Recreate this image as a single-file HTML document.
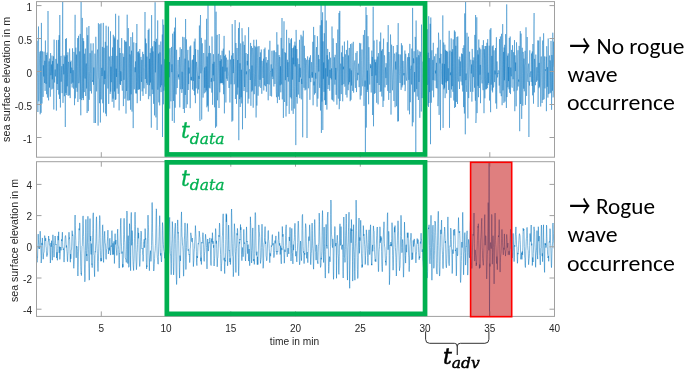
<!DOCTYPE html>
<html><head><meta charset="utf-8"><title>Rogue wave figure</title>
<style>
html,body{margin:0;padding:0;background:#fff;}
body{width:685px;height:370px;overflow:hidden;}
svg{display:block;}
.tk{font-family:"Liberation Sans",Arial,sans-serif;font-size:10px;fill:#262626;}
.lab{font-family:"Liberation Sans",Arial,sans-serif;font-size:10.2px;fill:#262626;}
.side{font-family:"Carlito","Liberation Sans",Arial,sans-serif;font-size:23px;font-size-adjust:0.466;fill:#000;}
.math{font-family:"DejaVu Serif","Liberation Serif",serif;font-style:italic;}
</style></head>
<body>
<svg width="685" height="370" viewBox="0 0 685 370">
<rect x="0" y="0" width="685" height="370" fill="#fff"/>
<defs>
<clipPath id="ct"><rect x="36.5" y="1.6" width="518" height="155.6"/></clipPath>
<clipPath id="cb"><rect x="36.5" y="161.7" width="518" height="154.7"/></clipPath>
</defs>
<!-- data -->
<polyline clip-path="url(#ct)" fill="none" stroke="#0072BD" stroke-width="0.42" stroke-linejoin="round" points="36.5,114.4 36.8,59.8 37.1,40.8 37.4,74.9 37.7,74.9 37.9,112.0 38.2,46.8 38.5,26.5 38.8,101.3 39.1,91.7 39.4,66.1 39.7,53.7 40.0,51.7 40.2,114.3 40.5,55.6 40.8,50.9 41.1,112.8 41.4,22.9 41.7,76.6 42.0,103.5 42.3,63.7 42.5,51.4 42.8,64.7 43.1,96.9 43.4,65.3 43.7,76.5 44.0,51.7 44.3,78.3 44.6,83.0 44.8,60.8 45.1,90.9 45.4,40.5 45.7,81.7 46.0,83.9 46.3,55.0 46.6,94.2 46.9,53.3 47.1,52.6 47.4,97.6 47.7,87.3 48.0,11.0 48.3,64.8 48.6,100.4 48.9,61.4 49.2,61.5 49.5,87.6 49.7,58.6 50.0,64.1 50.3,96.7 50.6,53.1 50.9,75.2 51.2,72.4 51.5,64.5 51.8,89.5 52.0,55.6 52.3,79.3 52.6,61.1 52.9,88.7 53.2,60.6 53.5,56.3 53.8,109.5 54.1,39.6 54.3,71.0 54.6,82.5 54.9,73.1 55.2,69.5 55.5,76.4 55.8,58.9 56.1,64.8 56.4,110.6 56.6,40.1 56.9,65.3 57.2,84.0 57.5,63.7 57.8,90.0 58.1,67.1 58.4,39.9 58.7,94.5 58.9,88.5 59.2,35.2 59.5,98.9 59.8,15.0 60.1,52.8 60.4,107.5 60.7,58.9 61.0,55.9 61.2,81.7 61.5,72.3 61.8,66.2 62.1,93.1 62.4,52.4 62.7,2.0 63.0,102.9 63.3,63.9 63.6,66.8 63.8,74.4 64.1,55.4 64.4,96.2 64.7,65.3 65.0,56.7 65.3,127.0 65.6,39.0 65.9,92.9 66.1,83.0 66.4,38.1 66.7,95.0 67.0,55.2 67.3,86.3 67.6,70.1 67.9,52.3 68.2,95.8 68.4,61.9 68.7,63.2 69.0,73.3 69.3,95.3 69.6,48.6 69.9,58.9 70.2,98.1 70.5,62.1 70.7,73.2 71.0,60.7 71.3,83.7 71.6,67.6 71.9,68.7 72.2,87.5 72.5,48.3 72.8,82.7 73.0,70.5 73.3,70.2 73.6,88.6 73.9,51.9 74.2,53.5 74.5,105.2 74.8,83.3 75.1,14.8 75.3,98.4 75.6,87.7 75.9,47.7 76.2,87.8 76.5,54.6 76.8,72.8 77.1,91.8 77.4,66.4 77.7,38.1 77.9,102.0 78.2,82.7 78.5,35.8 78.8,83.2 79.1,81.5 79.4,73.8 79.7,51.4 80.0,99.2 80.2,33.9 80.5,86.1 80.8,115.3 81.1,1.6 81.4,83.9 81.7,100.1 82.0,83.1 82.3,17.9 82.5,88.6 82.8,98.1 83.1,38.2 83.4,100.1 83.7,41.1 84.0,76.6 84.3,92.1 84.6,53.7 84.8,75.7 85.1,78.5 85.4,48.6 85.7,96.0 86.0,66.1 86.3,63.5 86.6,88.5 86.9,27.4 87.1,113.0 87.4,78.8 87.7,35.2 88.0,62.7 88.3,111.1 88.6,71.4 88.9,26.0 89.2,99.8 89.5,73.7 89.7,71.5 90.0,53.2 90.3,91.1 90.6,77.1 90.9,43.4 91.2,80.1 91.5,93.5 91.8,62.1 92.0,50.6 92.3,81.6 92.6,80.6 92.9,81.7 93.2,43.3 93.5,84.8 93.8,67.5 94.1,123.0 94.3,82.2 94.6,66.1 94.9,53.6 95.2,65.4 95.5,123.0 95.8,36.8 96.1,54.7 96.4,75.1 96.6,91.4 96.9,81.5 97.2,53.8 97.5,49.5 97.8,76.7 98.1,125.6 98.4,23.2 98.7,63.2 98.9,77.5 99.2,79.7 99.5,103.2 99.8,24.2 100.1,51.8 100.4,122.5 100.7,70.6 101.0,23.3 101.2,99.4 101.5,74.2 101.8,67.8 102.1,76.0 102.4,46.9 102.7,103.3 103.0,73.5 103.3,22.9 103.6,112.5 103.8,72.2 104.1,47.8 104.4,84.3 104.7,70.6 105.0,79.0 105.3,41.8 105.6,113.6 105.9,57.6 106.1,25.7 106.4,116.2 106.7,78.7 107.0,45.7 107.3,65.8 107.6,79.8 107.9,88.5 108.2,73.2 108.4,26.6 108.7,103.9 109.0,80.7 109.3,56.5 109.6,61.2 109.9,80.9 110.2,93.9 110.5,31.3 110.7,91.6 111.0,66.7 111.3,82.2 111.6,63.6 111.9,55.9 112.2,101.8 112.5,47.5 112.8,72.0 113.0,98.7 113.3,34.8 113.6,72.5 113.9,107.7 114.2,36.5 114.5,91.5 114.8,38.4 115.1,92.3 115.4,99.9 115.6,13.8 115.9,99.4 116.2,68.7 116.5,76.9 116.8,55.9 117.1,88.5 117.4,76.0 117.7,39.7 117.9,84.9 118.2,93.8 118.5,72.5 118.8,15.7 119.1,110.4 119.4,83.0 119.7,47.9 120.0,84.3 120.2,53.0 120.5,85.0 120.8,71.3 121.1,74.8 121.4,81.1 121.7,38.1 122.0,83.8 122.3,90.7 122.5,71.7 122.8,53.4 123.1,55.1 123.4,106.1 123.7,56.9 124.0,79.9 124.3,67.9 124.6,40.2 124.8,98.7 125.1,95.7 125.4,41.7 125.7,45.3 126.0,113.6 126.3,41.6 126.6,91.0 126.9,86.2 127.2,14.7 127.4,91.5 127.7,100.5 128.0,71.9 128.3,28.1 128.6,80.2 128.9,100.6 129.2,63.3 129.5,46.3 129.7,100.1 130.0,54.4 130.3,57.1 130.6,109.7 130.9,37.0 131.2,94.3 131.5,50.7 131.8,56.3 132.0,111.6 132.3,74.1 132.6,32.4 132.9,55.5 133.2,128.1 133.5,58.1 133.8,42.4 134.1,74.0 134.3,89.3 134.6,70.9 134.9,67.3 135.2,72.2 135.5,61.4 135.8,93.3 136.1,43.0 136.4,93.5 136.6,81.6 136.9,24.0 137.2,103.2 137.5,77.2 137.8,52.1 138.1,89.9 138.4,51.3 138.7,74.7 138.9,89.5 139.2,53.3 139.5,89.2 139.8,49.0 140.1,68.7 140.4,100.8 140.7,59.6 141.0,56.9 141.3,76.5 141.5,81.9 141.8,59.8 142.1,91.4 142.4,57.0 142.7,51.8 143.0,95.9 143.3,80.3 143.6,54.1 143.8,62.7 144.1,88.4 144.4,68.1 144.7,67.3 145.0,12.0 145.3,79.0 145.6,38.6 145.9,93.9 146.1,87.8 146.4,43.3 146.7,83.1 147.0,56.6 147.3,84.9 147.6,82.4 147.9,70.7 148.2,30.0 148.4,98.6 148.7,99.2 149.0,28.6 149.3,85.2 149.6,58.8 149.9,96.2 150.2,52.9 150.5,82.5 150.7,64.7 151.0,48.3 151.3,127.7 151.6,15.1 151.9,84.0 152.2,89.5 152.5,46.4 152.8,94.1 153.1,51.4 153.3,68.6 153.6,103.8 153.9,49.1 154.2,41.0 154.5,115.4 154.8,58.2 155.1,2.2 155.4,72.4 155.6,41.8 155.9,117.4 156.2,68.7 156.5,38.8 156.8,66.5 157.1,130.0 157.4,90.3 157.7,20.4 157.9,89.7 158.2,80.9 158.5,53.6 158.8,102.4 159.1,44.8 159.4,57.1 159.7,105.4 160.0,52.4 160.2,71.2 160.5,87.3 160.8,41.5 161.1,92.1 161.4,64.5 161.7,85.3 162.0,63.1 162.3,34.5 162.5,137.0 162.8,19.4 163.1,75.3 163.4,104.3 163.7,24.8 164.0,90.6 164.3,83.1 164.6,63.5 164.8,59.3 165.1,86.6 165.4,58.9 165.7,84.4 166.0,69.4 166.3,71.5 166.6,59.1 166.9,70.4 167.2,113.2 167.4,24.9 167.7,79.2 168.0,68.8 168.3,88.9 168.6,75.1 168.9,49.2 169.2,77.3 169.5,62.1 169.7,108.6 170.0,48.0 170.3,57.5 170.6,67.4 170.9,101.3 171.2,72.4 171.5,46.9 171.8,72.2 172.0,64.3 172.3,120.9 172.6,33.7 172.9,51.0 173.2,83.5 173.5,100.9 173.8,58.7 174.1,31.6 174.3,122.9 174.6,27.6 174.9,83.4 175.2,107.7 175.5,17.6 175.8,75.9 176.1,94.4 176.4,78.7 176.6,49.8 176.9,64.3 177.2,88.0 177.5,74.3 177.8,70.5 178.1,60.0 178.4,77.3 178.7,74.4 178.9,79.5 179.2,61.5 179.5,57.2 179.8,107.4 180.1,47.3 180.4,58.3 180.7,89.3 181.0,82.1 181.3,61.0 181.5,49.1 181.8,92.9 182.1,71.8 182.4,89.1 182.7,36.8 183.0,61.0 183.3,109.0 183.6,71.4 183.8,58.5 184.1,37.3 184.4,113.0 184.7,67.2 185.0,58.6 185.3,94.9 185.6,19.0 185.9,95.3 186.1,107.9 186.4,39.3 186.7,51.2 187.0,78.2 187.3,104.3 187.6,56.2 187.9,49.9 188.2,90.0 188.4,60.5 188.7,84.1 189.0,67.5 189.3,73.5 189.6,71.5 189.9,46.6 190.2,108.2 190.5,68.0 190.7,45.5 191.0,80.1 191.3,76.9 191.6,80.5 191.9,63.5 192.2,60.2 192.5,89.5 192.8,59.5 193.1,74.9 193.3,80.9 193.6,55.0 193.9,90.9 194.2,41.5 194.5,95.2 194.8,77.7 195.1,38.6 195.4,103.2 195.6,49.1 195.9,73.6 196.2,88.4 196.5,61.9 196.8,66.4 197.1,70.6 197.4,73.9 197.7,93.5 197.9,49.8 198.2,58.3 198.5,89.4 198.8,75.9 199.1,78.9 199.4,25.5 199.7,118.4 200.0,121.0 200.2,29.6 200.5,15.0 200.8,73.3 201.1,55.0 201.4,37.9 201.7,119.5 202.0,74.6 202.3,43.3 202.5,69.8 202.8,71.0 203.1,97.6 203.4,67.6 203.7,53.0 204.0,62.1 204.3,93.3 204.6,67.5 204.8,87.8 205.1,39.7 205.4,70.6 205.7,92.3 206.0,66.5 206.3,90.5 206.6,18.8 206.9,107.3 207.2,56.5 207.4,78.1 207.7,105.7 208.0,1.6 208.3,111.6 208.6,84.6 208.9,53.1 209.2,87.7 209.5,45.8 209.7,73.1 210.0,88.4 210.3,82.2 210.6,53.2 210.9,58.7 211.2,81.8 211.5,78.2 211.8,92.6 212.0,36.5 212.3,58.8 212.6,104.8 212.9,63.8 213.2,75.3 213.5,54.2 213.8,81.3 214.1,61.8 214.3,81.7 214.6,107.3 214.9,1.6 215.2,71.9 215.5,127.8 215.8,67.3 216.1,11.7 216.4,81.0 216.6,126.5 216.9,41.0 217.2,34.9 217.5,100.3 217.8,87.3 218.1,56.2 218.4,53.8 218.7,77.1 219.0,108.0 219.2,34.0 219.5,66.1 219.8,92.3 220.1,60.9 220.4,83.3 220.7,55.2 221.0,82.6 221.3,59.3 221.5,83.2 221.8,79.0 222.1,50.7 222.4,83.0 222.7,66.7 223.0,84.6 223.3,48.7 223.6,94.2 223.8,68.8 224.1,35.9 224.4,113.4 224.7,55.9 225.0,71.5 225.3,70.6 225.6,54.7 225.9,102.5 226.1,62.7 226.4,57.6 226.7,78.7 227.0,67.5 227.3,80.8 227.6,76.6 227.9,59.7 228.2,70.8 228.4,73.0 228.7,76.1 229.0,88.0 229.3,50.5 229.6,53.3 229.9,102.5 230.2,70.7 230.5,59.6 230.8,67.2 231.0,84.3 231.3,65.0 231.6,55.5 231.9,121.7 232.2,24.1 232.5,50.6 232.8,120.6 233.1,53.1 233.3,73.1 233.6,59.1 233.9,70.9 234.2,84.3 234.5,82.8 234.8,61.2 235.1,20.0 235.4,99.0 235.6,90.2 235.9,43.0 236.2,57.8 236.5,103.8 236.8,63.9 237.1,48.0 237.4,94.6 237.7,60.0 237.9,87.5 238.2,61.3 238.5,28.1 238.8,140.2 239.1,56.5 239.4,22.4 239.7,99.1 240.0,63.3 240.2,107.0 240.5,43.5 240.8,43.6 241.1,97.3 241.4,69.7 241.7,103.4 242.0,28.2 242.3,40.3 242.5,129.3 242.8,71.2 243.1,41.5 243.4,67.2 243.7,81.3 244.0,91.0 244.3,44.9 244.6,87.0 244.9,71.5 245.1,35.3 245.4,118.1 245.7,61.7 246.0,53.0 246.3,74.3 246.6,71.4 246.9,92.2 247.2,60.9 247.4,65.3 247.7,54.0 248.0,103.5 248.3,77.3 248.6,27.2 248.9,98.7 249.2,71.1 249.5,69.3 249.7,70.3 250.0,73.0 250.3,80.0 250.6,42.9 250.9,105.8 251.2,63.4 251.5,46.1 251.8,91.7 252.0,65.5 252.3,90.5 252.6,47.9 252.9,55.2 253.2,107.7 253.5,72.7 253.8,39.8 254.1,73.9 254.3,94.2 254.6,73.3 254.9,45.8 255.2,86.2 255.5,74.5 255.8,47.2 256.1,117.5 256.4,39.7 256.6,45.3 256.9,105.6 257.2,79.5 257.5,57.3 257.8,46.5 258.1,95.7 258.4,80.3 258.7,68.1 259.0,46.1 259.2,86.6 259.5,84.5 259.8,57.0 260.1,79.8 260.4,52.4 260.7,87.9 261.0,82.4 261.3,49.5 261.5,68.8 261.8,93.8 262.1,60.8 262.4,65.8 262.7,74.4 263.0,78.0 263.3,72.7 263.6,58.7 263.8,90.5 264.1,49.2 264.4,85.4 264.7,80.2 265.0,47.6 265.3,79.5 265.6,86.2 265.9,62.8 266.1,57.1 266.4,91.7 266.7,62.6 267.0,68.8 267.3,84.1 267.6,60.0 267.9,60.4 268.2,100.3 268.4,61.7 268.7,49.7 269.0,84.2 269.3,84.4 269.6,71.4 269.9,40.8 270.2,95.9 270.5,71.4 270.8,71.8 271.0,64.7 271.3,64.4 271.6,96.5 271.9,50.8 272.2,76.6 272.5,68.6 272.8,79.1 273.1,77.2 273.3,50.5 273.6,80.1 273.9,86.5 274.2,65.8 274.5,50.5 274.8,84.0 275.1,83.6 275.4,67.8 275.6,66.3 275.9,52.2 276.2,91.6 276.5,97.2 276.8,32.2 277.1,57.4 277.4,103.1 277.7,80.4 277.9,44.6 278.2,66.1 278.5,96.6 278.8,61.3 279.1,55.0 279.4,99.9 279.7,57.0 280.0,59.2 280.2,85.3 280.5,66.3 280.8,92.3 281.1,37.9 281.4,81.2 281.7,84.5 282.0,18.0 282.3,99.4 282.6,59.2 282.8,48.6 283.1,73.7 283.4,117.9 283.7,51.8 284.0,21.3 284.3,97.9 284.6,102.0 284.9,52.1 285.1,56.0 285.4,80.2 285.7,53.0 286.0,116.5 286.3,53.5 286.6,29.8 286.9,105.9 287.2,75.2 287.4,59.8 287.7,77.1 288.0,62.2 288.3,81.6 288.6,77.2 288.9,37.9 289.2,113.9 289.5,60.6 289.7,43.2 290.0,78.8 290.3,97.2 290.6,69.1 290.9,39.3 291.2,98.5 291.5,38.2 291.8,110.6 292.0,64.4 292.3,48.2 292.6,79.6 292.9,57.7 293.2,113.9 293.5,47.5 293.8,64.3 294.1,45.5 294.3,108.6 294.6,86.3 294.9,41.7 295.2,66.4 295.5,45.7 295.8,145.1 296.1,29.9 296.4,46.5 296.7,97.0 296.9,49.1 297.2,103.6 297.5,61.4 297.8,58.4 298.1,61.0 298.4,94.5 298.7,71.2 299.0,64.0 299.2,82.0 299.5,39.8 299.8,98.2 300.1,67.8 300.4,77.4 300.7,73.1 301.0,34.8 301.3,99.4 301.5,78.8 301.8,84.0 302.1,36.4 302.4,43.6 302.7,137.3 303.0,62.6 303.3,30.7 303.6,76.0 303.8,87.3 304.1,87.8 304.4,45.8 304.7,68.5 305.0,90.4 305.3,58.1 305.6,67.9 305.9,89.6 306.1,65.6 306.4,59.7 306.7,73.2 307.0,138.0 307.3,84.8 307.6,56.4 307.9,63.4 308.2,75.1 308.4,88.3 308.7,67.0 309.0,59.9 309.3,78.2 309.6,57.6 309.9,99.8 310.2,60.3 310.5,55.3 310.8,82.1 311.0,74.9 311.3,75.0 311.6,62.1 311.9,77.7 312.2,72.2 312.5,77.5 312.8,41.8 313.1,105.3 313.3,79.4 313.6,26.9 313.9,85.3 314.2,81.6 314.5,94.6 314.8,35.1 315.1,62.9 315.4,93.2 315.6,72.9 315.9,78.7 316.2,59.9 316.5,47.1 316.8,90.6 317.1,106.7 317.4,36.2 317.7,44.7 317.9,98.6 318.2,86.9 318.5,54.9 318.8,71.5 319.1,59.2 319.4,82.3 319.7,87.9 320.0,68.6 320.2,25.3 320.5,110.5 320.8,92.7 321.1,1.6 321.4,132.9 321.7,20.2 322.0,101.6 322.3,81.1 322.6,12.3 322.8,130.0 323.1,41.4 323.4,78.8 323.7,62.4 324.0,91.8 324.3,33.2 324.6,100.2 324.9,94.9 325.1,3.2 325.4,105.0 325.7,68.2 326.0,104.7 326.3,20.5 326.6,67.0 326.9,109.6 327.2,55.2 327.4,76.5 327.7,48.9 328.0,89.0 328.3,75.4 328.6,59.5 328.9,84.9 329.2,68.7 329.5,52.1 329.7,90.7 330.0,69.9 330.3,77.9 330.6,57.7 330.9,70.6 331.2,79.4 331.5,68.4 331.8,99.5 332.0,26.5 332.3,70.3 332.6,100.3 332.9,82.4 333.2,38.4 333.5,61.6 333.8,101.6 334.1,69.6 334.4,57.3 334.6,73.0 334.9,84.6 335.2,54.8 335.5,79.6 335.8,67.9 336.1,94.8 336.4,43.0 336.7,56.0 336.9,104.7 337.2,73.0 337.5,69.1 337.8,29.5 338.1,96.9 338.4,98.6 338.7,64.6 339.0,13.0 339.2,109.2 339.5,102.6 339.8,10.9 340.1,101.0 340.4,70.9 340.7,63.6 341.0,66.9 341.3,94.1 341.5,52.4 341.8,71.5 342.1,85.1 342.4,45.6 342.7,101.3 343.0,56.8 343.3,69.3 343.6,66.7 343.8,84.2 344.1,79.9 344.4,41.6 344.7,86.5 345.0,86.5 345.3,54.3 345.6,57.5 345.9,94.8 346.1,79.9 346.4,49.9 346.7,57.1 347.0,97.5 347.3,83.9 347.6,40.5 347.9,72.3 348.2,90.2 348.5,55.4 348.7,84.5 349.0,75.6 349.3,47.9 349.6,82.2 349.9,68.5 350.2,101.2 350.5,44.1 350.8,48.8 351.0,99.8 351.3,70.4 351.6,85.5 351.9,43.4 352.2,62.5 352.5,90.6 352.8,91.0 353.1,55.7 353.3,41.8 353.6,92.7 353.9,81.2 354.2,72.9 354.5,62.6 354.8,60.5 355.1,77.4 355.4,87.9 355.6,71.7 355.9,52.9 356.2,67.1 356.5,92.1 356.8,74.7 357.1,51.1 357.4,80.3 357.7,73.3 357.9,72.8 358.2,74.9 358.5,63.7 358.8,70.9 359.1,87.1 359.4,68.9 359.7,42.9 360.0,88.4 360.2,99.5 360.5,46.1 360.8,43.4 361.1,95.6 361.4,91.3 361.7,60.4 362.0,49.5 362.3,73.3 362.6,86.3 362.8,85.4 363.1,65.1 363.4,34.9 363.7,83.7 364.0,105.9 364.3,65.9 364.6,30.1 364.9,86.7 365.1,80.6 365.4,156.0 365.7,76.1 366.0,7.2 366.3,127.6 366.6,79.3 366.9,15.0 367.2,92.0 367.4,70.6 367.7,89.7 368.0,36.2 368.3,77.0 368.6,104.3 368.9,47.2 369.2,61.5 369.5,76.9 369.7,84.5 370.0,72.0 370.3,63.9 370.6,68.1 370.9,65.4 371.2,92.5 371.5,74.2 371.8,50.6 372.0,76.0 372.3,56.9 372.6,115.0 372.9,61.8 373.2,6.8 373.5,126.3 373.8,74.8 374.1,40.5 374.4,93.9 374.6,59.6 374.9,62.7 375.2,93.1 375.5,62.2 375.8,75.4 376.1,59.5 376.4,68.5 376.7,102.8 376.9,39.8 377.2,83.0 377.5,69.8 377.8,56.6 378.1,104.4 378.4,53.1 378.7,57.0 379.0,81.2 379.2,85.0 379.5,70.9 379.8,41.5 380.1,91.9 380.4,90.0 380.7,32.6 381.0,91.4 381.3,75.4 381.5,50.7 381.8,96.5 382.1,67.1 382.4,49.2 382.7,75.4 383.0,107.0 383.3,49.6 383.6,38.6 383.8,100.8 384.1,84.8 384.4,55.3 384.7,57.1 385.0,87.4 385.3,73.2 385.6,67.4 385.9,78.1 386.1,63.2 386.4,67.7 386.7,84.9 387.0,76.9 387.3,42.2 387.6,90.5 387.9,91.1 388.2,25.1 388.5,85.8 388.7,99.9 389.0,52.0 389.3,58.6 389.6,67.6 389.9,93.0 390.2,89.8 390.5,34.5 390.8,48.6 391.0,114.6 391.3,79.1 391.6,44.7 391.9,66.5 392.2,72.7 392.5,90.3 392.8,73.0 393.1,67.7 393.3,46.0 393.6,80.1 393.9,101.0 394.2,61.8 394.5,53.6 394.8,55.2 395.1,107.2 395.4,68.2 395.6,61.5 395.9,69.5 396.2,52.4 396.5,106.2 396.8,74.3 397.1,45.0 397.4,52.0 397.7,121.5 397.9,59.7 398.2,23.1 398.5,121.2 398.8,54.2 399.1,64.8 399.4,73.4 399.7,75.7 400.0,83.0 400.3,54.5 400.5,71.4 400.8,75.8 401.1,89.9 401.4,43.2 401.7,79.3 402.0,87.4 402.3,45.4 402.6,85.3 402.8,79.6 403.1,60.9 403.4,68.6 403.7,75.4 404.0,73.0 404.3,84.7 404.6,60.9 404.9,50.5 405.1,91.1 405.4,87.0 405.7,53.8 406.0,62.8 406.3,76.4 406.6,80.7 406.9,75.1 407.2,69.2 407.4,61.9 407.7,57.2 408.0,110.5 408.3,58.2 408.6,53.2 408.9,79.9 409.2,57.1 409.5,114.3 409.7,43.9 410.0,44.4 410.3,102.2 410.6,69.1 410.9,69.4 411.2,65.6 411.5,84.5 411.8,48.6 412.1,71.9 412.3,126.3 412.6,7.9 412.9,56.9 413.2,122.3 413.5,58.4 413.8,63.3 414.1,51.2 414.4,92.2 414.6,72.0 414.9,91.5 415.2,36.9 415.5,40.0 415.8,154.0 416.1,20.5 416.4,58.9 416.7,89.1 416.9,57.3 417.2,96.5 417.5,65.6 417.8,49.7 418.1,70.8 418.4,100.0 418.7,55.2 419.0,82.0 419.2,51.3 419.5,57.5 419.8,117.8 420.1,56.8 420.4,56.5 420.7,51.8 421.0,90.8 421.3,111.5 421.5,24.6 421.8,52.9 422.1,98.1 422.4,80.2 422.7,67.9 423.0,61.6 423.3,65.4 423.6,75.3 423.8,91.7 424.1,60.4 424.4,68.1 424.7,60.8 425.0,75.2 425.3,103.6 425.6,44.3 425.9,53.6 426.2,97.3 426.4,68.2 426.7,55.1 427.0,105.6 427.3,29.2 427.6,84.9 427.9,83.0 428.2,52.7 428.5,106.9 428.7,16.2 429.0,103.0 429.3,58.1 429.6,92.1 429.9,64.5 430.2,23.8 430.5,144.2 430.8,17.5 431.0,71.5 431.3,102.7 431.6,55.3 431.9,50.3 432.2,90.6 432.5,80.0 432.8,59.9 433.1,80.1 433.3,42.8 433.6,97.3 433.9,77.5 434.2,63.3 434.5,56.3 434.8,80.3 435.1,80.6 435.4,70.6 435.6,73.4 435.9,53.8 436.2,88.0 436.5,62.8 436.8,76.8 437.1,88.5 437.4,48.2 437.7,47.7 437.9,106.1 438.2,94.7 438.5,32.7 438.8,39.8 439.1,114.9 439.4,80.0 439.7,58.1 440.0,63.4 440.3,39.8 440.5,130.2 440.8,53.8 441.1,54.0 441.4,68.5 441.7,79.1 442.0,84.1 442.3,63.5 442.6,84.8 442.8,15.4 443.1,127.9 443.4,64.0 443.7,42.5 444.0,89.3 444.3,63.9 444.6,87.8 444.9,44.7 445.1,98.1 445.4,49.8 445.7,77.6 446.0,82.5 446.3,51.0 446.6,93.4 446.9,50.7 447.2,81.0 447.4,81.1 447.7,51.8 448.0,80.8 448.3,68.3 448.6,89.9 448.9,60.5 449.2,30.8 449.5,127.8 449.7,57.9 450.0,50.6 450.3,75.2 450.6,72.5 450.9,97.8 451.2,38.4 451.5,89.4 451.8,51.8 452.1,82.3 452.3,86.1 452.6,49.2 452.9,91.8 453.2,39.4 453.5,82.8 453.8,100.5 454.1,56.0 454.4,30.4 454.6,108.0 454.9,83.6 455.2,31.7 455.5,107.0 455.8,45.8 456.1,61.8 456.4,101.9 456.7,72.7 456.9,37.0 457.2,79.5 457.5,104.0 457.8,36.4 458.1,77.6 458.4,81.5 458.7,71.6 459.0,59.4 459.2,73.9 459.5,89.0 459.8,56.7 460.1,76.1 460.4,61.4 460.7,79.5 461.0,81.6 461.3,68.5 461.5,53.5 461.8,80.1 462.1,85.3 462.4,54.1 462.7,91.5 463.0,48.0 463.3,65.8 463.6,107.1 463.9,45.3 464.1,60.5 464.4,113.5 464.7,13.4 465.0,79.6 465.3,134.3 465.6,1.9 465.9,80.2 466.2,73.5 466.4,84.4 466.7,91.9 467.0,32.8 467.3,66.9 467.6,75.7 467.9,118.4 468.2,38.2 468.5,36.7 468.7,98.1 469.0,82.7 469.3,75.8 469.6,51.7 469.9,67.7 470.2,76.2 470.5,91.8 470.8,59.7 471.0,64.1 471.3,73.5 471.6,64.5 471.9,101.6 472.2,48.9 472.5,59.8 472.8,91.8 473.1,60.3 473.3,77.1 473.6,76.5 473.9,57.4 474.2,78.2 474.5,87.7 474.8,34.9 475.1,91.9 475.4,100.7 475.6,15.0 475.9,123.0 476.2,118.1 476.5,60.6 476.8,17.3 477.1,113.1 477.4,75.9 477.7,50.2 478.0,85.9 478.2,54.5 478.5,97.2 478.8,39.5 479.1,85.7 479.4,88.0 479.7,47.7 480.0,74.7 480.3,64.9 480.5,103.2 480.8,49.3 481.1,59.2 481.4,79.8 481.7,80.2 482.0,83.4 482.3,45.2 482.6,67.8 482.8,87.4 483.1,90.2 483.4,40.2 483.7,58.0 484.0,113.2 484.3,49.2 484.6,58.3 484.9,98.3 485.1,46.0 485.4,78.3 485.7,89.4 486.0,46.0 486.3,77.8 486.6,89.2 486.9,42.8 487.2,85.1 487.4,88.1 487.7,39.1 488.0,84.8 488.3,72.7 488.6,83.0 488.9,63.2 489.2,45.7 489.5,100.5 489.8,86.6 490.0,29.6 490.3,74.3 490.6,112.2 490.9,28.1 491.2,84.7 491.5,79.3 491.8,55.9 492.1,90.5 492.3,46.2 492.6,92.4 492.9,73.6 493.2,45.3 493.5,87.5 493.8,85.6 494.1,50.4 494.4,72.0 494.6,82.1 494.9,70.6 495.2,74.4 495.5,48.0 495.8,103.4 496.1,65.1 496.4,37.2 496.7,108.8 496.9,61.5 497.2,61.6 497.5,77.4 497.8,73.0 498.1,73.7 498.4,70.4 498.7,70.7 499.0,71.8 499.2,85.6 499.5,39.1 499.8,90.8 500.1,93.3 500.4,36.5 500.7,64.0 501.0,91.6 501.3,96.2 501.5,33.8 501.8,52.5 502.1,105.2 502.4,88.4 502.7,24.1 503.0,90.4 503.3,77.3 503.6,51.9 503.9,102.9 504.1,47.5 504.4,80.3 504.7,44.8 505.0,101.6 505.3,84.4 505.6,34.1 505.9,71.4 506.2,83.6 506.4,108.0 506.7,4.4 507.0,97.1 507.3,82.1 507.6,55.7 507.9,87.3 508.2,53.4 508.5,81.1 508.7,67.0 509.0,89.3 509.3,37.9 509.6,92.8 509.9,82.9 510.2,36.5 510.5,94.1 510.8,67.6 511.0,73.7 511.3,76.3 511.6,49.9 511.9,86.1 512.2,87.7 512.5,45.2 512.8,75.7 513.1,79.2 513.3,77.2 513.6,52.2 513.9,91.3 514.2,69.5 514.5,40.1 514.8,111.2 515.1,55.3 515.4,71.1 515.6,62.5 515.9,70.5 516.2,106.3 516.5,42.3 516.8,53.5 517.1,90.5 517.4,88.9 517.7,57.5 518.0,50.2 518.2,86.5 518.5,79.6 518.8,81.6 519.1,45.9 519.4,50.5 519.7,131.2 520.0,45.3 520.3,31.1 520.5,104.0 520.8,93.5 521.1,33.6 521.4,56.8 521.7,118.9 522.0,54.4 522.3,47.8 522.6,73.6 522.8,105.7 523.1,51.9 523.4,55.0 523.7,88.7 524.0,58.6 524.3,91.3 524.6,65.4 524.9,63.9 525.1,50.8 525.4,104.9 525.7,85.1 526.0,27.3 526.3,70.3 526.6,95.9 526.9,87.5 527.2,37.0 527.4,72.5 527.7,79.8 528.0,81.9 528.3,69.2 528.6,63.6 528.9,137.0 529.2,81.4 529.5,85.5 529.8,50.3 530.0,77.1 530.3,73.2 530.6,72.9 530.9,71.3 531.2,81.9 531.5,53.5 531.8,75.7 532.1,85.9 532.3,51.5 532.6,95.3 532.9,44.0 533.2,74.3 533.5,103.7 533.8,33.0 534.1,13.0 534.4,92.4 534.6,58.9 534.9,62.2 535.2,79.1 535.5,85.2 535.8,54.6 536.1,70.4 536.4,81.9 536.7,69.0 536.9,67.2 537.2,80.6 537.5,73.4 537.8,40.4 538.1,107.0 538.4,73.0 538.7,40.6 539.0,88.2 539.2,62.9 539.5,86.7 539.8,80.0 540.1,36.8 540.4,72.8 540.7,106.5 541.0,60.3 541.3,56.5 541.5,64.2 541.8,79.6 542.1,103.0 542.4,45.5 542.7,40.5 543.0,100.0 543.3,95.7 543.6,33.3 543.9,66.6 544.1,99.2 544.4,61.5 544.7,56.4 545.0,88.4 545.3,69.4 545.6,70.7 545.9,68.5 546.2,56.7 546.4,111.2 546.7,46.2 547.0,56.5 547.3,86.8 547.6,67.2 547.9,97.6 548.2,38.5 548.5,62.5 548.7,94.1 549.0,80.3 549.3,58.1 549.6,55.5 549.9,93.4 550.2,60.4 550.5,73.3 550.8,92.7 551.0,40.9 551.3,61.2 551.6,109.8 551.9,55.0 552.2,61.2 552.5,90.7 552.8,32.7 553.1,97.4 553.3,94.1 553.6,41.6 553.9,61.2 554.2,66.8"/>
<polyline clip-path="url(#cb)" fill="none" stroke="#0072BD" stroke-width="0.5" stroke-linejoin="round" points="36.5,246.8 36.7,252.6 36.9,260.7 37.1,262.3 37.4,256.9 37.6,257.2 37.8,246.7 38.0,241.2 38.2,234.1 38.4,239.5 38.7,244.5 38.9,248.5 39.1,246.0 39.3,248.6 39.5,249.0 39.7,245.5 40.0,237.6 40.2,231.2 40.4,237.1 40.6,242.4 40.8,247.4 41.0,255.7 41.2,263.0 41.5,258.8 41.7,246.8 41.9,242.9 42.1,245.0 42.3,237.9 42.5,238.6 42.8,248.2 43.0,257.0 43.2,259.2 43.4,258.0 43.6,253.7 43.8,252.8 44.1,252.0 44.3,245.9 44.5,243.0 44.7,235.6 44.9,237.2 45.1,238.3 45.3,241.0 45.6,238.3 45.8,238.2 46.0,246.4 46.2,247.1 46.4,250.4 46.6,254.9 46.9,256.6 47.1,255.8 47.3,253.9 47.5,254.3 47.7,251.1 47.9,245.7 48.2,241.0 48.4,241.1 48.6,236.0 48.8,238.3 49.0,240.2 49.2,239.4 49.5,245.2 49.7,245.2 49.9,246.1 50.1,254.5 50.3,263.0 50.5,262.1 50.7,247.9 51.0,242.9 51.2,246.7 51.4,243.6 51.6,240.7 51.8,244.2 52.0,254.0 52.3,260.2 52.5,250.7 52.7,243.1 52.9,234.8 53.1,240.2 53.3,242.5 53.6,245.5 53.8,253.5 54.0,257.2 54.2,255.4 54.4,246.6 54.6,245.1 54.8,240.7 55.1,236.0 55.3,237.5 55.5,240.9 55.7,244.1 55.9,244.9 56.1,244.1 56.4,251.9 56.6,258.0 56.8,255.4 57.0,252.2 57.2,257.9 57.4,260.3 57.7,248.6 57.9,235.9 58.1,236.8 58.3,240.2 58.5,235.5 58.7,231.8 58.9,243.5 59.2,252.9 59.4,246.7 59.6,249.4 59.8,259.4 60.0,256.7 60.2,253.6 60.5,248.6 60.7,247.0 60.9,249.1 61.1,250.3 61.3,243.1 61.5,239.4 61.8,241.0 62.0,239.6 62.2,235.5 62.4,232.2 62.6,242.7 62.8,247.8 63.0,247.6 63.3,250.0 63.5,248.7 63.7,248.6 63.9,260.5 64.1,262.1 64.3,257.8 64.6,249.5 64.8,244.8 65.0,239.7 65.2,236.8 65.4,235.8 65.6,235.5 65.9,238.4 66.1,243.1 66.3,247.5 66.5,245.5 66.7,247.4 66.9,251.2 67.1,253.0 67.4,261.1 67.6,261.7 67.8,255.5 68.0,253.3 68.2,246.3 68.4,240.2 68.7,237.8 68.9,232.3 69.1,232.3 69.3,238.5 69.5,237.6 69.7,241.8 70.0,250.2 70.2,261.2 70.4,262.2 70.6,254.1 70.8,258.9 71.0,257.1 71.2,249.8 71.5,249.7 71.7,246.1 71.9,236.7 72.1,230.7 72.3,231.7 72.5,235.7 72.8,234.7 73.0,237.1 73.2,246.1 73.4,256.9 73.6,266.4 73.8,268.3 74.1,264.6 74.3,259.3 74.5,246.0 74.7,234.3 74.9,219.6 75.1,215.0 75.3,225.6 75.6,235.8 75.8,240.7 76.0,252.3 76.2,257.8 76.4,250.4 76.6,246.1 76.9,247.2 77.1,246.8 77.3,248.3 77.5,251.6 77.7,270.4 77.9,276.0 78.2,267.5 78.4,256.8 78.6,245.6 78.8,240.6 79.0,228.5 79.2,230.2 79.5,230.0 79.7,222.9 79.9,225.9 80.1,239.2 80.3,249.5 80.5,253.0 80.7,266.7 81.0,273.7 81.2,273.2 81.4,275.6 81.6,270.6 81.8,253.3 82.0,246.2 82.3,245.9 82.5,237.1 82.7,229.0 82.9,217.1 83.1,215.9 83.3,223.2 83.6,236.4 83.8,244.8 84.0,248.0 84.2,254.1 84.4,263.1 84.6,273.8 84.8,281.8 85.1,279.0 85.3,264.2 85.5,250.4 85.7,232.2 85.9,219.4 86.1,230.8 86.4,250.3 86.6,255.9 86.8,254.1 87.0,261.1 87.2,252.9 87.4,245.0 87.7,232.9 87.9,216.3 88.1,223.7 88.3,242.5 88.5,249.8 88.7,256.2 88.9,268.7 89.2,280.2 89.4,279.8 89.6,262.3 89.8,237.4 90.0,218.6 90.2,236.8 90.5,241.0 90.7,236.1 90.9,248.7 91.1,254.4 91.3,243.6 91.5,252.7 91.8,264.5 92.0,263.7 92.2,267.6 92.4,253.9 92.6,237.4 92.8,230.5 93.0,216.1 93.3,212.8 93.5,228.2 93.7,252.0 93.9,254.9 94.1,255.5 94.3,269.7 94.6,276.7 94.8,263.5 95.0,255.7 95.2,251.5 95.4,252.2 95.6,247.0 95.9,242.0 96.1,233.6 96.3,219.4 96.5,216.8 96.7,222.9 96.9,241.8 97.1,248.5 97.4,253.4 97.6,263.9 97.8,268.3 98.0,271.5 98.2,267.8 98.4,261.5 98.7,251.1 98.9,243.5 99.1,238.4 99.3,229.5 99.5,220.5 99.7,215.5 100.0,218.6 100.2,237.4 100.4,250.7 100.6,257.0 100.8,261.3 101.0,258.1 101.2,259.5 101.5,261.1 101.7,254.2 101.9,248.4 102.1,244.2 102.3,235.7 102.5,225.5 102.8,224.8 103.0,237.3 103.2,248.7 103.4,260.5 103.6,262.4 103.8,251.7 104.1,244.0 104.3,236.8 104.5,233.8 104.7,231.3 104.9,238.3 105.1,242.8 105.4,243.8 105.6,246.0 105.8,255.5 106.0,258.9 106.2,259.3 106.4,253.2 106.6,249.2 106.9,248.8 107.1,245.5 107.3,241.1 107.5,239.0 107.7,236.6 107.9,230.1 108.2,241.9 108.4,254.0 108.6,250.5 108.8,248.6 109.0,248.6 109.2,247.6 109.5,250.4 109.7,239.1 109.9,238.3 110.1,245.6 110.3,253.0 110.5,255.1 110.7,254.5 111.0,246.1 111.2,245.6 111.4,246.7 111.6,239.1 111.8,230.9 112.0,230.6 112.3,238.1 112.5,252.8 112.7,254.7 112.9,243.4 113.1,243.3 113.3,247.8 113.6,254.5 113.8,252.5 114.0,241.4 114.2,250.1 114.4,263.5 114.6,256.3 114.8,240.4 115.1,233.7 115.3,238.7 115.5,244.4 115.7,243.0 115.9,240.0 116.1,246.8 116.4,250.1 116.6,252.2 116.8,255.4 117.0,254.3 117.2,249.6 117.4,233.7 117.7,229.2 117.9,237.0 118.1,244.2 118.3,245.6 118.5,246.6 118.7,249.4 118.9,260.6 119.2,268.1 119.4,262.5 119.6,253.0 119.8,253.3 120.0,248.8 120.2,240.1 120.5,225.2 120.7,219.2 120.9,218.3 121.1,232.0 121.3,242.2 121.5,246.2 121.8,253.6 122.0,253.3 122.2,251.6 122.4,261.1 122.6,267.5 122.8,264.2 123.0,267.1 123.3,259.8 123.5,245.4 123.7,234.4 123.9,223.0 124.1,218.3 124.3,225.2 124.6,239.8 124.8,242.5 125.0,251.7 125.2,257.4 125.4,258.0 125.6,258.8 125.9,258.8 126.1,260.2 126.3,262.4 126.5,249.8 126.7,218.3 126.9,211.0 127.2,214.0 127.4,236.5 127.6,256.9 127.8,263.5 128.0,253.9 128.2,235.7 128.4,243.3 128.7,267.3 128.9,267.1 129.1,265.9 129.3,241.4 129.5,223.7 129.7,225.8 130.0,236.0 130.2,240.9 130.4,255.8 130.6,270.7 130.8,247.3 131.0,218.5 131.3,212.4 131.5,229.5 131.7,245.3 131.9,242.4 132.1,230.6 132.3,232.3 132.5,241.3 132.8,255.0 133.0,261.3 133.2,265.5 133.4,267.9 133.6,270.5 133.8,264.4 134.1,258.3 134.3,247.1 134.5,238.4 134.7,226.7 134.9,214.2 135.1,212.2 135.4,224.6 135.6,236.1 135.8,249.3 136.0,259.9 136.2,264.0 136.4,269.7 136.6,268.0 136.9,261.8 137.1,252.6 137.3,250.0 137.5,244.6 137.7,231.7 137.9,227.8 138.2,229.9 138.4,238.3 138.6,232.9 138.8,235.9 139.0,242.7 139.2,253.1 139.5,265.0 139.7,266.5 139.9,265.6 140.1,262.6 140.3,253.4 140.5,244.1 140.7,237.5 141.0,231.1 141.2,231.7 141.4,232.8 141.6,241.3 141.8,248.2 142.0,248.9 142.3,248.2 142.5,250.4 142.7,254.9 142.9,255.1 143.1,261.4 143.3,256.4 143.6,244.5 143.8,242.4 144.0,242.6 144.2,239.2 144.4,244.4 144.6,247.7 144.8,240.5 145.1,228.6 145.3,231.5 145.5,239.5 145.7,238.4 145.9,240.4 146.1,248.4 146.4,262.7 146.6,268.9 146.8,265.5 147.0,266.8 147.2,255.2 147.4,244.3 147.7,229.7 147.9,215.7 148.1,215.1 148.3,224.4 148.5,227.7 148.7,238.3 148.9,252.2 149.2,262.6 149.4,270.7 149.6,259.0 149.8,258.1 150.0,255.4 150.2,254.2 150.5,250.7 150.7,256.8 150.9,261.4 151.1,259.7 151.3,254.9 151.5,245.6 151.8,223.6 152.0,202.8 152.2,202.5 152.4,210.1 152.6,232.5 152.8,241.8 153.1,250.6 153.3,258.0 153.5,266.9 153.7,271.0 153.9,270.1 154.1,268.8 154.3,264.7 154.6,258.6 154.8,253.2 155.0,251.6 155.2,250.2 155.4,245.5 155.6,243.2 155.9,228.3 156.1,216.6 156.3,208.8 156.5,210.5 156.7,227.2 156.9,244.8 157.2,254.8 157.4,257.7 157.6,258.0 157.8,260.9 158.0,264.1 158.2,264.2 158.4,256.7 158.7,246.9 158.9,241.9 159.1,236.3 159.3,227.2 159.5,224.3 159.7,215.7 160.0,226.5 160.2,248.5 160.4,253.4 160.6,255.5 160.8,253.1 161.0,255.5 161.3,260.3 161.5,261.9 161.7,259.3 161.9,252.4 162.1,244.4 162.3,230.3 162.5,222.6 162.8,226.4 163.0,235.2 163.2,241.1 163.4,244.5 163.6,248.2 163.8,249.9 164.1,251.5 164.3,253.1 164.5,256.7 164.7,258.3 164.9,255.0 165.1,252.5 165.4,257.8 165.6,256.1 165.8,250.7 166.0,248.8 166.2,236.7 166.4,220.4 166.6,217.9 166.9,227.0 167.1,237.1 167.3,242.1 167.5,252.2 167.7,260.9 167.9,262.1 168.2,265.0 168.4,266.0 168.6,256.4 168.8,250.5 169.0,243.7 169.2,232.5 169.5,219.4 169.7,217.4 169.9,229.1 170.1,245.6 170.3,253.5 170.5,253.7 170.7,256.1 171.0,265.0 171.2,274.7 171.4,263.4 171.6,250.5 171.8,243.2 172.0,239.3 172.3,221.6 172.5,224.0 172.7,229.5 172.9,238.3 173.1,257.6 173.3,266.8 173.6,274.9 173.8,271.6 174.0,262.6 174.2,249.8 174.4,239.1 174.6,233.9 174.8,229.1 175.1,226.8 175.3,223.1 175.5,228.9 175.7,243.3 175.9,256.9 176.1,270.8 176.4,279.6 176.6,284.5 176.8,280.1 177.0,256.9 177.2,240.8 177.4,226.4 177.7,219.9 177.9,224.0 178.1,233.3 178.3,232.3 178.5,234.2 178.7,240.8 178.9,251.0 179.2,262.6 179.4,274.2 179.6,278.1 179.8,267.7 180.0,255.6 180.2,257.5 180.5,260.9 180.7,252.0 180.9,241.7 181.1,227.8 181.3,216.2 181.5,211.9 181.8,227.6 182.0,236.3 182.2,237.2 182.4,242.1 182.6,245.3 182.8,246.4 183.1,252.1 183.3,264.5 183.5,276.2 183.7,275.8 183.9,263.8 184.1,247.3 184.3,239.8 184.6,235.9 184.8,231.9 185.0,222.9 185.2,232.2 185.4,247.9 185.6,259.7 185.9,269.5 186.1,266.0 186.3,257.2 186.5,247.4 186.7,240.5 186.9,235.2 187.2,228.7 187.4,223.5 187.6,229.1 187.8,238.7 188.0,250.7 188.2,250.6 188.4,249.4 188.7,249.5 188.9,253.5 189.1,254.9 189.3,254.3 189.5,257.7 189.7,262.6 190.0,259.1 190.2,248.0 190.4,247.9 190.6,241.6 190.8,232.8 191.0,235.1 191.3,235.6 191.5,238.6 191.7,240.4 191.9,241.8 192.1,239.5 192.3,238.0 192.5,242.2 192.8,243.6 193.0,248.1 193.2,260.3 193.4,266.6 193.6,263.0 193.8,260.9 194.1,252.2 194.3,249.2 194.5,248.3 194.7,243.0 194.9,239.8 195.1,236.2 195.4,225.6 195.6,228.9 195.8,233.6 196.0,236.8 196.2,243.8 196.4,251.3 196.6,262.7 196.9,265.6 197.1,256.0 197.3,256.8 197.5,258.0 197.7,254.1 197.9,247.9 198.2,243.4 198.4,244.2 198.6,242.6 198.8,242.4 199.0,238.0 199.2,231.1 199.5,233.9 199.7,236.9 199.9,237.6 200.1,241.8 200.3,249.5 200.5,255.7 200.7,261.2 201.0,257.7 201.2,261.5 201.4,264.5 201.6,254.3 201.8,242.0 202.0,243.3 202.3,242.7 202.5,239.7 202.7,234.5 202.9,232.7 203.1,233.0 203.3,237.8 203.6,244.7 203.8,253.7 204.0,260.0 204.2,261.4 204.4,255.3 204.6,253.1 204.8,251.5 205.1,245.3 205.3,239.1 205.5,234.3 205.7,235.8 205.9,238.8 206.1,240.3 206.4,245.2 206.6,247.4 206.8,263.4 207.0,268.9 207.2,262.4 207.4,247.8 207.7,239.0 207.9,245.3 208.1,248.1 208.3,251.1 208.5,248.5 208.7,244.4 209.0,242.2 209.2,243.2 209.4,242.3 209.6,239.5 209.8,237.9 210.0,239.5 210.2,240.6 210.5,252.0 210.7,260.2 210.9,264.8 211.1,265.5 211.3,254.0 211.5,240.1 211.8,238.5 212.0,242.1 212.2,239.0 212.4,232.7 212.6,235.7 212.8,243.7 213.1,241.2 213.3,244.2 213.5,247.7 213.7,245.2 213.9,260.4 214.1,266.0 214.3,261.2 214.6,258.3 214.8,255.1 215.0,247.6 215.2,238.9 215.4,234.0 215.6,228.6 215.9,231.6 216.1,243.4 216.3,243.6 216.5,240.8 216.7,248.5 216.9,258.0 217.2,266.8 217.4,263.9 217.6,258.2 217.8,258.1 218.0,254.9 218.2,248.9 218.4,242.9 218.7,240.1 218.9,235.2 219.1,236.8 219.3,228.4 219.5,223.1 219.7,224.7 220.0,236.0 220.2,246.2 220.4,249.0 220.6,254.5 220.8,263.2 221.0,271.2 221.3,271.0 221.5,265.3 221.7,263.0 221.9,258.9 222.1,243.9 222.3,236.7 222.5,235.5 222.8,223.6 223.0,216.2 223.2,213.8 223.4,226.2 223.6,243.8 223.8,253.0 224.1,260.3 224.3,257.8 224.5,269.6 224.7,273.6 224.9,266.6 225.1,260.1 225.4,261.4 225.6,252.3 225.8,239.5 226.0,221.2 226.2,213.6 226.4,221.9 226.6,214.6 226.9,227.1 227.1,245.7 227.3,257.0 227.5,265.7 227.7,265.8 227.9,257.6 228.2,248.8 228.4,239.2 228.6,225.1 228.8,229.7 229.0,239.9 229.2,250.8 229.5,250.3 229.7,257.7 229.9,262.0 230.1,258.3 230.3,264.5 230.5,264.4 230.8,256.6 231.0,248.6 231.2,237.2 231.4,212.5 231.6,209.0 231.8,217.0 232.0,230.7 232.3,243.4 232.5,252.9 232.7,256.3 232.9,256.7 233.1,267.7 233.3,276.7 233.6,271.7 233.8,246.3 234.0,237.9 234.2,231.7 234.4,223.7 234.6,226.8 234.9,234.4 235.1,242.0 235.3,251.8 235.5,254.1 235.7,262.2 235.9,272.5 236.1,255.9 236.4,248.7 236.6,246.0 236.8,236.6 237.0,233.3 237.2,235.2 237.4,228.4 237.7,230.9 237.9,239.6 238.1,247.5 238.3,257.2 238.5,271.5 238.7,275.8 239.0,265.7 239.2,246.7 239.4,242.1 239.6,243.4 239.8,239.0 240.0,240.1 240.2,233.7 240.5,224.5 240.7,230.0 240.9,227.3 241.1,233.5 241.3,245.6 241.5,254.4 241.8,260.7 242.0,260.4 242.2,254.3 242.4,247.5 242.6,248.7 242.8,252.3 243.1,256.7 243.3,254.1 243.5,243.1 243.7,229.7 243.9,229.4 244.1,239.3 244.3,243.8 244.6,242.6 244.8,243.3 245.0,252.4 245.2,254.9 245.4,260.0 245.6,261.0 245.9,252.6 246.1,246.7 246.3,235.0 246.5,226.9 246.7,230.9 246.9,241.9 247.2,241.1 247.4,244.8 247.6,253.6 247.8,253.0 248.0,245.2 248.2,244.6 248.4,256.0 248.7,261.1 248.9,253.6 249.1,249.0 249.3,250.7 249.5,259.4 249.7,265.7 250.0,257.1 250.2,233.3 250.4,216.8 250.6,222.4 250.8,225.7 251.0,238.1 251.3,250.5 251.5,262.5 251.7,263.0 251.9,253.9 252.1,250.5 252.3,246.0 252.5,233.0 252.8,227.9 253.0,238.6 253.2,249.9 253.4,260.6 253.6,261.1 253.8,259.0 254.1,260.0 254.3,264.4 254.5,262.1 254.7,253.7 254.9,228.2 255.1,212.6 255.4,212.7 255.6,215.2 255.8,231.8 256.0,245.3 256.2,252.9 256.4,255.4 256.6,254.9 256.9,251.7 257.1,260.9 257.3,264.7 257.5,256.8 257.7,259.8 257.9,264.6 258.2,256.1 258.4,249.9 258.6,238.1 258.8,224.9 259.0,227.6 259.2,231.4 259.5,233.9 259.7,237.4 259.9,243.0 260.1,250.5 260.3,259.6 260.5,263.4 260.8,260.9 261.0,259.2 261.2,257.4 261.4,247.5 261.6,236.8 261.8,229.0 262.0,224.2 262.3,230.8 262.5,242.2 262.7,247.8 262.9,258.5 263.1,268.3 263.3,267.2 263.6,260.7 263.8,248.7 264.0,244.8 264.2,242.7 264.4,242.1 264.6,237.6 264.9,229.5 265.1,226.6 265.3,237.7 265.5,243.9 265.7,241.6 265.9,246.9 266.1,255.7 266.4,257.9 266.6,260.8 266.8,260.2 267.0,259.5 267.2,253.1 267.4,248.0 267.7,241.3 267.9,238.6 268.1,232.1 268.3,230.5 268.5,239.7 268.7,240.2 269.0,243.5 269.2,248.7 269.4,251.7 269.6,260.2 269.8,262.7 270.0,258.3 270.2,253.3 270.5,255.6 270.7,256.2 270.9,252.0 271.1,250.8 271.3,245.6 271.5,246.6 271.8,244.9 272.0,238.9 272.2,235.8 272.4,234.6 272.6,241.1 272.8,245.3 273.1,243.2 273.3,243.8 273.5,252.7 273.7,257.4 273.9,257.5 274.1,257.5 274.3,256.6 274.6,250.4 274.8,242.4 275.0,240.6 275.2,243.4 275.4,243.0 275.6,239.5 275.9,235.9 276.1,242.9 276.3,251.7 276.5,251.0 276.7,251.8 276.9,254.6 277.2,252.2 277.4,251.5 277.6,251.4 277.8,251.9 278.0,247.2 278.2,240.2 278.4,239.2 278.7,231.7 278.9,234.2 279.1,240.5 279.3,243.5 279.5,245.5 279.7,243.2 280.0,246.3 280.2,254.5 280.4,251.6 280.6,245.7 280.8,250.1 281.0,260.1 281.3,263.8 281.5,254.1 281.7,247.8 281.9,250.1 282.1,237.6 282.3,226.5 282.6,233.4 282.8,236.6 283.0,234.2 283.2,240.0 283.4,245.7 283.6,248.7 283.8,250.2 284.1,257.1 284.3,263.2 284.5,260.8 284.7,254.4 284.9,249.7 285.1,251.9 285.4,246.3 285.6,235.7 285.8,228.4 286.0,226.5 286.2,224.8 286.4,236.8 286.7,245.6 286.9,251.1 287.1,254.9 287.3,256.8 287.5,255.5 287.7,252.7 287.9,248.1 288.2,248.4 288.4,251.8 288.6,252.0 288.8,253.9 289.0,243.9 289.2,236.9 289.5,240.9 289.7,236.2 289.9,227.5 290.1,227.4 290.3,233.3 290.5,245.3 290.8,250.0 291.0,261.0 291.2,256.6 291.4,248.7 291.6,238.9 291.8,228.4 292.0,241.8 292.3,252.7 292.5,253.2 292.7,258.6 292.9,263.9 293.1,252.3 293.3,244.6 293.6,250.2 293.8,247.8 294.0,241.1 294.2,240.8 294.4,237.4 294.6,227.0 294.9,223.3 295.1,223.7 295.3,234.4 295.5,248.6 295.7,256.2 295.9,254.4 296.1,251.3 296.4,253.6 296.6,259.2 296.8,261.9 297.0,258.2 297.2,253.8 297.4,250.1 297.7,242.4 297.9,230.9 298.1,222.2 298.3,221.1 298.5,223.7 298.7,232.1 299.0,242.3 299.2,251.0 299.4,261.3 299.6,264.8 299.8,263.1 300.0,260.5 300.2,248.0 300.5,241.1 300.7,242.9 300.9,252.5 301.1,255.0 301.3,257.6 301.5,260.6 301.8,251.4 302.0,228.5 302.2,216.0 302.4,215.1 302.6,214.4 302.8,230.5 303.1,246.4 303.3,250.7 303.5,252.5 303.7,251.5 303.9,259.9 304.1,263.6 304.3,260.0 304.6,253.0 304.8,254.6 305.0,248.3 305.2,238.9 305.4,228.3 305.6,223.6 305.9,225.8 306.1,229.5 306.3,241.8 306.5,252.3 306.7,258.3 306.9,255.9 307.2,252.0 307.4,256.9 307.6,259.8 307.8,262.7 308.0,259.4 308.2,248.6 308.4,244.1 308.7,237.4 308.9,236.6 309.1,240.8 309.3,238.7 309.5,225.8 309.7,224.8 310.0,231.9 310.2,238.9 310.4,251.8 310.6,264.3 310.8,264.7 311.0,260.0 311.3,253.4 311.5,250.9 311.7,240.9 311.9,230.2 312.1,223.1 312.3,230.3 312.6,245.1 312.8,248.4 313.0,251.1 313.2,257.0 313.4,266.9 313.6,269.2 313.8,261.5 314.1,247.0 314.3,237.8 314.5,224.3 314.7,219.5 314.9,222.7 315.1,232.0 315.4,244.9 315.6,251.5 315.8,252.5 316.0,260.1 316.2,259.8 316.4,245.1 316.7,244.8 316.9,246.9 317.1,251.7 317.3,260.4 317.5,262.2 317.7,261.9 317.9,263.8 318.2,252.5 318.4,246.2 318.6,244.7 318.8,242.6 319.0,224.5 319.2,213.1 319.5,221.5 319.7,231.9 319.9,240.0 320.1,250.3 320.3,262.2 320.5,267.4 320.8,266.0 321.0,265.1 321.2,257.9 321.4,259.3 321.6,255.2 321.8,251.8 322.0,235.7 322.3,217.2 322.5,210.6 322.7,215.8 322.9,231.4 323.1,248.1 323.3,257.2 323.6,262.5 323.8,246.5 324.0,227.9 324.2,227.1 324.4,243.5 324.6,251.3 324.9,263.9 325.1,274.5 325.3,278.1 325.5,272.8 325.7,254.3 325.9,236.4 326.1,224.4 326.4,233.3 326.6,245.9 326.8,245.3 327.0,248.5 327.2,231.2 327.4,217.8 327.7,213.1 327.9,212.1 328.1,226.9 328.3,246.9 328.5,266.5 328.7,273.3 329.0,268.7 329.2,262.8 329.4,258.3 329.6,256.6 329.8,257.9 330.0,261.8 330.2,258.0 330.5,246.3 330.7,214.3 330.9,200.0 331.1,203.6 331.3,223.6 331.5,234.2 331.8,237.2 332.0,242.8 332.2,245.1 332.4,247.5 332.6,247.6 332.8,238.9 333.1,242.5 333.3,271.4 333.5,279.3 333.7,275.6 333.9,258.2 334.1,248.2 334.4,239.2 334.6,231.8 334.8,226.5 335.0,227.6 335.2,233.3 335.4,246.2 335.6,244.8 335.9,243.0 336.1,243.5 336.3,255.7 336.5,278.3 336.7,265.4 336.9,240.2 337.2,235.2 337.4,235.5 337.6,240.6 337.8,243.8 338.0,245.0 338.2,253.4 338.5,258.9 338.7,272.6 338.9,274.4 339.1,265.0 339.3,256.4 339.5,239.9 339.7,227.8 340.0,223.8 340.2,238.2 340.4,245.4 340.6,243.9 340.8,237.6 341.0,226.6 341.3,238.6 341.5,244.2 341.7,248.9 341.9,249.5 342.1,246.5 342.3,246.4 342.6,244.8 342.8,254.5 343.0,271.7 343.2,278.0 343.4,257.5 343.6,226.7 343.8,217.0 344.1,230.1 344.3,246.7 344.5,257.2 344.7,258.5 344.9,262.4 345.1,262.1 345.4,249.6 345.6,235.2 345.8,229.6 346.0,223.1 346.2,214.0 346.4,223.6 346.7,246.3 346.9,255.3 347.1,262.6 347.3,275.8 347.5,280.1 347.7,260.4 347.9,247.5 348.2,242.2 348.4,231.9 348.6,227.3 348.8,221.9 349.0,212.2 349.2,245.0 349.5,281.3 349.7,288.3 349.9,270.5 350.1,261.2 350.3,247.1 350.5,231.5 350.8,228.5 351.0,228.6 351.2,242.8 351.4,219.5 351.6,224.0 351.8,231.0 352.0,229.5 352.3,246.3 352.5,261.3 352.7,281.1 352.9,272.5 353.1,260.5 353.3,240.3 353.6,224.7 353.8,233.0 354.0,249.0 354.2,251.4 354.4,257.6 354.6,271.6 354.9,280.2 355.1,268.6 355.3,248.0 355.5,243.2 355.7,232.0 355.9,216.7 356.1,200.1 356.4,213.7 356.6,230.6 356.8,242.5 357.0,249.8 357.2,257.3 357.4,269.6 357.7,278.5 357.9,277.7 358.1,275.4 358.3,255.6 358.5,241.7 358.7,227.0 359.0,218.0 359.2,241.8 359.4,253.3 359.6,247.3 359.8,237.4 360.0,240.7 360.2,237.7 360.5,228.1 360.7,220.3 360.9,226.7 361.1,236.8 361.3,247.0 361.5,255.0 361.8,263.4 362.0,267.7 362.2,264.7 362.4,266.8 362.6,263.0 362.8,253.5 363.1,241.5 363.3,225.6 363.5,228.0 363.7,235.8 363.9,234.1 364.1,235.5 364.4,239.2 364.6,244.6 364.8,246.8 365.0,255.5 365.2,264.5 365.4,263.0 365.6,255.6 365.9,250.6 366.1,243.6 366.3,229.8 366.5,232.5 366.7,235.3 366.9,239.3 367.2,244.7 367.4,248.4 367.6,257.4 367.8,263.3 368.0,265.3 368.2,257.8 368.5,249.6 368.7,242.5 368.9,231.7 369.1,229.8 369.3,240.7 369.5,249.1 369.7,254.6 370.0,251.5 370.2,243.8 370.4,226.5 370.6,224.8 370.8,235.1 371.0,245.6 371.3,256.5 371.5,265.1 371.7,263.8 371.9,265.2 372.1,258.9 372.3,248.9 372.6,244.9 372.8,251.3 373.0,246.5 373.2,234.9 373.4,225.9 373.6,228.0 373.8,230.6 374.1,231.3 374.3,243.7 374.5,249.6 374.7,254.0 374.9,256.8 375.1,261.3 375.4,259.4 375.6,259.5 375.8,261.8 376.0,260.4 376.2,251.9 376.4,244.1 376.7,235.3 376.9,228.3 377.1,227.2 377.3,227.7 377.5,227.4 377.7,240.9 377.9,251.9 378.2,263.6 378.4,271.7 378.6,271.3 378.8,261.2 379.0,252.2 379.2,249.6 379.5,246.7 379.7,238.4 379.9,226.8 380.1,228.5 380.3,242.8 380.5,240.2 380.8,236.1 381.0,240.6 381.2,237.5 381.4,242.5 381.6,251.8 381.8,264.8 382.0,268.4 382.3,271.7 382.5,266.8 382.7,258.2 382.9,244.6 383.1,239.6 383.3,236.0 383.6,229.1 383.8,227.3 384.0,221.8 384.2,230.8 384.4,243.2 384.6,246.3 384.9,247.8 385.1,252.5 385.3,258.1 385.5,262.2 385.7,260.9 385.9,265.4 386.1,265.4 386.4,261.8 386.6,255.6 386.8,249.5 387.0,239.8 387.2,226.7 387.4,214.1 387.7,212.7 387.9,238.0 388.1,249.7 388.3,246.7 388.5,239.1 388.7,231.3 389.0,236.5 389.2,255.6 389.4,284.7 389.6,280.5 389.8,274.5 390.0,245.3 390.3,245.9 390.5,244.8 390.7,245.5 390.9,242.0 391.1,244.7 391.3,244.2 391.5,246.2 391.8,238.5 392.0,222.7 392.2,227.3 392.4,242.5 392.6,255.7 392.8,263.2 393.1,270.2 393.3,266.5 393.5,259.1 393.7,249.5 393.9,244.6 394.1,235.7 394.4,227.3 394.6,232.2 394.8,230.6 395.0,225.6 395.2,233.2 395.4,247.4 395.6,251.2 395.9,257.6 396.1,268.3 396.3,276.0 396.5,274.9 396.7,262.4 396.9,252.4 397.2,245.8 397.4,240.2 397.6,231.2 397.8,223.4 398.0,220.8 398.2,223.0 398.5,230.4 398.7,240.9 398.9,251.4 399.1,255.9 399.3,265.6 399.5,270.7 399.7,268.3 400.0,267.1 400.2,259.6 400.4,250.0 400.6,235.6 400.8,218.2 401.0,215.3 401.3,218.9 401.5,236.6 401.7,247.4 401.9,252.7 402.1,251.5 402.3,243.7 402.6,239.5 402.8,241.4 403.0,247.5 403.2,261.7 403.4,277.2 403.6,276.9 403.8,266.7 404.1,258.4 404.3,238.2 404.5,222.1 404.7,230.7 404.9,238.2 405.1,244.3 405.4,255.3 405.6,263.1 405.8,255.7 406.0,247.3 406.2,244.7 406.4,250.9 406.7,252.2 406.9,247.4 407.1,241.1 407.3,232.7 407.5,235.6 407.7,237.6 407.9,233.1 408.2,232.8 408.4,243.9 408.6,255.2 408.8,257.8 409.0,269.2 409.2,271.6 409.5,265.3 409.7,254.2 409.9,246.7 410.1,244.2 410.3,240.0 410.5,239.0 410.8,237.0 411.0,233.2 411.2,235.8 411.4,243.2 411.6,251.9 411.8,259.9 412.1,255.5 412.3,252.7 412.5,255.7 412.7,259.3 412.9,254.0 413.1,242.4 413.3,240.4 413.6,246.5 413.8,245.4 414.0,243.5 414.2,238.9 414.4,239.5 414.6,242.7 414.9,244.6 415.1,247.0 415.3,252.0 415.5,252.8 415.7,255.8 415.9,262.9 416.2,255.0 416.4,254.0 416.6,251.5 416.8,244.5 417.0,243.1 417.2,238.5 417.4,242.3 417.7,243.6 417.9,241.6 418.1,239.6 418.3,242.5 418.5,246.5 418.7,252.7 419.0,256.8 419.2,259.7 419.4,256.6 419.6,256.4 419.8,258.0 420.0,250.7 420.3,241.8 420.5,241.7 420.7,243.5 420.9,236.4 421.1,233.2 421.3,239.6 421.5,239.4 421.8,242.9 422.0,250.5 422.2,252.0 422.4,249.4 422.6,249.7 422.8,260.2 423.1,261.9 423.3,265.7 423.5,268.0 423.7,258.4 423.9,250.5 424.1,252.3 424.4,252.0 424.6,243.8 424.8,235.8 425.0,234.2 425.2,222.6 425.4,219.5 425.6,224.1 425.9,228.0 426.1,234.3 426.3,249.9 426.5,262.7 426.7,271.5 426.9,278.2 427.2,277.4 427.4,277.4 427.6,271.3 427.8,251.8 428.0,240.0 428.2,229.8 428.5,227.7 428.7,229.1 428.9,225.5 429.1,224.8 429.3,228.4 429.5,245.7 429.7,261.4 430.0,263.8 430.2,260.7 430.4,256.9 430.6,247.7 430.8,223.5 431.0,215.3 431.3,233.6 431.5,252.9 431.7,268.6 431.9,280.2 432.1,270.8 432.3,247.4 432.6,234.1 432.8,226.5 433.0,225.2 433.2,231.5 433.4,242.5 433.6,259.5 433.8,268.3 434.1,266.0 434.3,255.9 434.5,250.7 434.7,232.7 434.9,221.1 435.1,222.2 435.4,222.1 435.6,226.1 435.8,235.4 436.0,243.9 436.2,257.1 436.4,269.0 436.7,272.1 436.9,273.7 437.1,274.1 437.3,263.6 437.5,245.7 437.7,232.9 437.9,218.9 438.2,211.5 438.4,211.3 438.6,223.8 438.8,241.9 439.0,251.4 439.2,266.2 439.5,276.0 439.7,275.9 439.9,273.0 440.1,261.6 440.3,247.8 440.5,235.7 440.8,229.8 441.0,233.9 441.2,232.8 441.4,222.4 441.6,220.1 441.8,231.7 442.1,246.6 442.3,250.7 442.5,254.6 442.7,260.2 442.9,267.7 443.1,268.6 443.3,261.9 443.6,251.2 443.8,244.2 444.0,238.2 444.2,234.9 444.4,231.7 444.6,227.1 444.9,229.3 445.1,237.9 445.3,242.8 445.5,241.2 445.7,249.1 445.9,263.6 446.2,266.9 446.4,267.8 446.6,264.3 446.8,258.7 447.0,252.8 447.2,244.5 447.4,238.0 447.7,223.3 447.9,216.9 448.1,225.7 448.3,234.0 448.5,248.8 448.7,263.0 449.0,264.6 449.2,265.7 449.4,263.7 449.6,254.1 449.8,248.0 450.0,245.8 450.3,246.4 450.5,239.6 450.7,228.1 450.9,229.1 451.1,232.0 451.3,239.5 451.5,246.6 451.8,252.8 452.0,263.3 452.2,273.5 452.4,269.1 452.6,254.7 452.8,249.6 453.1,253.7 453.3,251.7 453.5,244.8 453.7,229.8 453.9,231.0 454.1,235.4 454.4,229.8 454.6,229.3 454.8,229.0 455.0,233.7 455.2,240.1 455.4,250.9 455.6,249.8 455.9,253.5 456.1,262.5 456.3,275.9 456.5,273.9 456.7,258.2 456.9,247.8 457.2,253.7 457.4,255.6 457.6,255.9 457.8,254.1 458.0,244.4 458.2,230.3 458.5,217.6 458.7,223.9 458.9,232.5 459.1,232.3 459.3,232.2 459.5,232.7 459.7,231.2 460.0,240.4 460.2,255.3 460.4,280.1 460.6,282.5 460.8,279.8 461.0,273.6 461.3,261.4 461.5,255.4 461.7,247.1 461.9,242.0 462.1,247.6 462.3,239.2 462.6,212.8 462.8,212.3 463.0,227.1 463.2,246.7 463.4,264.0 463.6,274.8 463.9,262.4 464.1,253.7 464.3,251.5 464.5,240.1 464.7,233.9 464.9,232.6 465.1,241.2 465.4,252.4 465.6,265.1 465.8,261.9 466.0,252.0 466.2,246.7 466.4,247.0 466.7,234.7 466.9,233.5 467.1,230.8 467.3,236.7 467.5,263.1 467.7,275.1 468.0,268.7 468.2,252.6 468.4,243.0 468.6,239.4 468.8,243.8 469.0,244.8 469.2,254.2 469.5,257.8 469.7,245.2 469.9,240.1 470.1,230.6 470.3,222.9 470.5,219.2 470.8,239.7 471.0,255.5 471.2,258.6 471.4,263.0 471.6,265.6 471.8,268.5 472.1,266.2 472.3,255.9 472.5,247.2 472.7,245.0 472.9,237.4 473.1,234.2 473.3,235.5 473.6,231.8 473.8,218.0 474.0,213.0 474.2,218.4 474.4,243.4 474.6,261.1 474.9,260.3 475.1,249.8 475.3,250.0 475.5,253.9 475.7,255.1 475.9,257.2 476.2,266.0 476.4,262.9 476.6,264.5 476.8,261.1 477.0,250.2 477.2,246.4 477.4,240.6 477.7,231.8 477.9,226.3 478.1,227.5 478.3,223.7 478.5,227.0 478.7,240.4 479.0,249.1 479.2,261.5 479.4,268.5 479.6,264.5 479.8,264.7 480.0,267.9 480.3,266.0 480.5,249.0 480.7,240.0 480.9,237.7 481.1,234.2 481.3,229.9 481.5,221.8 481.8,218.3 482.0,234.9 482.2,247.8 482.4,250.4 482.6,258.6 482.8,261.5 483.1,263.6 483.3,265.3 483.5,262.4 483.7,257.1 483.9,248.4 484.1,242.6 484.4,230.1 484.6,218.0 484.8,214.6 485.0,234.0 485.2,245.2 485.4,238.0 485.6,235.7 485.9,236.4 486.1,243.2 486.3,259.1 486.5,274.8 486.7,278.9 486.9,275.2 487.2,261.6 487.4,254.4 487.6,249.4 487.8,231.9 488.0,211.2 488.2,202.6 488.5,214.0 488.7,234.8 488.9,250.3 489.1,161.7 489.3,256.6 489.5,316.4 489.8,263.6 490.0,266.5 490.2,264.6 490.4,249.6 490.6,242.5 490.8,244.4 491.0,246.1 491.3,248.6 491.5,236.7 491.7,214.4 491.9,215.8 492.1,246.8 492.3,264.2 492.6,252.7 492.8,238.3 493.0,235.7 493.2,237.1 493.4,243.0 493.6,247.4 493.9,268.2 494.1,283.9 494.3,268.5 494.5,244.9 494.7,231.2 494.9,215.7 495.1,213.1 495.4,222.2 495.6,240.4 495.8,244.7 496.0,247.2 496.2,253.1 496.4,260.8 496.7,263.6 496.9,256.6 497.1,262.6 497.3,269.7 497.5,265.1 497.7,257.7 498.0,248.2 498.2,238.5 498.4,235.6 498.6,237.0 498.8,234.2 499.0,224.2 499.2,219.6 499.5,230.3 499.7,244.6 499.9,263.7 500.1,272.1 500.3,262.5 500.5,257.6 500.8,254.6 501.0,253.3 501.2,250.3 501.4,245.9 501.6,238.3 501.8,229.6 502.1,229.4 502.3,236.3 502.5,242.2 502.7,246.0 502.9,248.7 503.1,253.0 503.3,254.8 503.6,253.2 503.8,247.8 504.0,249.5 504.2,241.5 504.4,233.9 504.6,244.6 504.9,249.6 505.1,250.3 505.3,250.9 505.5,256.1 505.7,253.2 505.9,251.5 506.2,249.4 506.4,239.7 506.6,234.6 506.8,234.4 507.0,238.0 507.2,240.4 507.4,247.6 507.7,245.9 507.9,243.0 508.1,254.6 508.3,254.3 508.5,254.1 508.7,253.9 509.0,251.1 509.2,255.1 509.4,254.2 509.6,251.8 509.8,249.3 510.0,245.3 510.3,235.9 510.5,229.3 510.7,230.2 510.9,232.7 511.1,241.4 511.3,248.7 511.5,246.0 511.8,251.7 512.0,256.5 512.2,258.1 512.4,257.7 512.6,252.2 512.8,244.5 513.1,233.4 513.3,239.3 513.5,245.4 513.7,251.4 513.9,257.3 514.1,261.6 514.4,257.2 514.6,245.2 514.8,246.7 515.0,244.4 515.2,240.8 515.4,233.5 515.6,233.6 515.9,226.9 516.1,234.2 516.3,236.1 516.5,244.1 516.7,246.4 516.9,247.2 517.2,256.6 517.4,263.3 517.6,261.8 517.8,252.9 518.0,254.2 518.2,252.5 518.5,250.3 518.7,244.1 518.9,240.6 519.1,236.9 519.3,234.5 519.5,233.7 519.8,235.0 520.0,235.9 520.2,240.7 520.4,244.9 520.6,253.3 520.8,259.3 521.0,258.0 521.3,255.5 521.5,252.7 521.7,254.6 521.9,259.4 522.1,255.1 522.3,251.4 522.6,254.8 522.8,247.3 523.0,234.5 523.2,228.2 523.4,230.7 523.6,230.3 523.9,229.0 524.1,235.2 524.3,246.4 524.5,251.2 524.7,257.3 524.9,258.2 525.1,265.1 525.4,267.5 525.6,260.1 525.8,250.4 526.0,246.9 526.2,241.8 526.4,238.4 526.7,237.1 526.9,228.1 527.1,227.4 527.3,232.5 527.5,238.2 527.7,245.7 528.0,250.2 528.2,250.6 528.4,258.8 528.6,264.7 528.8,262.1 529.0,259.8 529.2,258.2 529.5,253.3 529.7,245.4 529.9,234.1 530.1,233.5 530.3,234.9 530.5,241.6 530.8,241.3 531.0,231.2 531.2,225.0 531.4,240.1 531.6,245.4 531.8,243.6 532.1,255.5 532.3,265.5 532.5,262.6 532.7,257.5 532.9,260.1 533.1,262.0 533.3,253.7 533.6,246.0 533.8,231.1 534.0,226.8 534.2,228.9 534.4,229.6 534.6,231.6 534.9,242.9 535.1,247.2 535.3,253.0 535.5,266.5 535.7,267.3 535.9,255.9 536.2,252.7 536.4,250.5 536.6,248.0 536.8,241.1 537.0,230.6 537.2,242.9 537.4,255.4 537.7,259.1 537.9,249.2 538.1,238.7 538.3,226.7 538.5,230.3 538.7,241.2 539.0,239.1 539.2,236.1 539.4,243.8 539.6,253.8 539.8,255.7 540.0,259.4 540.3,264.9 540.5,255.5 540.7,248.1 540.9,247.8 541.1,236.5 541.3,225.7 541.5,225.0 541.8,240.9 542.0,254.6 542.2,256.2 542.4,253.4 542.6,261.7 542.8,257.2 543.1,245.9 543.3,229.4 543.5,224.8 543.7,237.8 543.9,245.1 544.1,248.2 544.4,269.0 544.6,272.4 544.8,253.8 545.0,243.2 545.2,243.4 545.4,245.0 545.7,243.5 545.9,247.6 546.1,246.3 546.3,238.3 546.5,225.1 546.7,225.9 546.9,236.6 547.2,246.4 547.4,249.7 547.6,254.2 547.8,255.5 548.0,258.0 548.2,256.9 548.5,256.1 548.7,261.3 548.9,256.0 549.1,242.3 549.3,241.5 549.5,242.4 549.8,233.3 550.0,228.7 550.2,229.9 550.4,234.2 550.6,243.7 550.8,246.3 551.0,254.2 551.3,265.3 551.5,267.6 551.7,263.1 551.9,253.9 552.1,248.3 552.3,247.7 552.6,241.6 552.8,224.7 553.0,223.0 553.2,229.5 553.4,233.4 553.6,240.6 553.9,243.7 554.1,246.9 554.3,248.9"/>
<!-- axes boxes -->
<g fill="none" stroke="#a0a0a0" stroke-width="1">
<rect x="36.5" y="1.6" width="518" height="155.6"/>
<rect x="36.5" y="161.7" width="518" height="154.7"/>
<path d="M36.5 5.6h5M36.5 38.5h5M36.5 71.5h5M36.5 104.5h5M36.5 137.5h5
M554.5 5.6h-5M554.5 38.5h-5M554.5 71.5h-5M554.5 104.5h-5M554.5 137.5h-5
M36.5 184.4h5M36.5 215.6h5M36.5 246.8h5M36.5 278h5M36.5 309.2h5
M554.5 184.4h-5M554.5 215.6h-5M554.5 246.8h-5M554.5 278h-5M554.5 309.2h-5
M101.3 1.6v5M166 1.6v5M230.8 1.6v5M295.5 1.6v5M360.3 1.6v5M425 1.6v5M489.8 1.6v5
M101.3 157.2v-5M166 157.2v-5M230.8 157.2v-5M295.5 157.2v-5M360.3 157.2v-5M425 157.2v-5M489.8 157.2v-5
M101.3 161.7v5M166 161.7v5M230.8 161.7v5M295.5 161.7v5M360.3 161.7v5M425 161.7v5M489.8 161.7v5
M101.3 316.4v-5M166 316.4v-5M230.8 316.4v-5M295.5 316.4v-5M360.3 316.4v-5M425 316.4v-5M489.8 316.4v-5"/>
</g>
<!-- tick labels -->
<g class="tk" text-anchor="end">
<text x="32" y="11">1</text>
<text x="32" y="43.9">0.5</text>
<text x="32" y="76.9">0</text>
<text x="32" y="109.9">-0.5</text>
<text x="32" y="142.9">-1</text>
<text x="32" y="189">4</text>
<text x="32" y="220.2">2</text>
<text x="32" y="251.4">0</text>
<text x="32" y="282.6">-2</text>
<text x="32" y="313.8">-4</text>
</g>
<g class="tk" text-anchor="middle">
<text x="101.3" y="332">5</text>
<text x="166" y="332">10</text>
<text x="230.8" y="332">15</text>
<text x="295.5" y="332">20</text>
<text x="360.3" y="332">25</text>
<text x="425" y="332">30</text>
<text x="489.8" y="332">35</text>
<text x="554.5" y="332">40</text>
</g>
<text class="lab" x="294.5" y="345.4" text-anchor="middle">time in min</text>
<text class="lab" transform="translate(9.8,79.4) rotate(-90)" text-anchor="middle" textLength="125" lengthAdjust="spacingAndGlyphs">sea surface elevation in m</text>
<text class="lab" transform="translate(18,240.5) rotate(-90)" text-anchor="middle" textLength="123" lengthAdjust="spacingAndGlyphs">sea surface elevation in m</text>
<!-- overlays -->
<g fill="none" stroke="#00B050" stroke-width="4.7">
<rect x="166.85" y="3.35" width="258.2" height="151.1"/>
<rect x="166.85" y="162.35" width="258.2" height="151.5"/>
</g>
<rect x="470.6" y="162.3" width="41.1" height="154.4" fill="#C00000" fill-opacity="0.5" stroke="#FF0000" stroke-width="1.6"/>
<g class="math" fill="#00B050" stroke="#00B050" stroke-width="0.3">
<text x="181" y="137.8" font-size="22px">t<tspan font-size="15.5px" dy="5.7">data</tspan></text>
<text x="181" y="185.6" font-size="22px">t<tspan font-size="15.5px" dy="4.8">data</tspan></text>
</g>
<text class="math" x="443" y="364.3" font-size="22px" fill="#000" stroke="#000" stroke-width="0.5">t<tspan font-size="15.5px" dy="3.7">adv</tspan></text>
<path d="M425.6 331.4 V339.3 Q425.6 343.3 429.6 343.3 H454.3 Q457.3 343.3 457.3 346.3 M457.3 346.3 Q457.3 343.3 460.3 343.3 H484.9 Q488.9 343.3 488.9 339.3 V331.4" fill="none" stroke="#333" stroke-width="1"/>
<path d="M457.3 345 V355" stroke="#444" stroke-width="1.3"/>
<!-- side text -->
<g font-family="'Noto Sans CJK JP','Noto Sans CJK SC',sans-serif" font-size="28px" fill="#000">
<text transform="translate(569.24,58.05) scale(0.76,1.186)">→</text>
<text transform="translate(569.24,218.25) scale(0.76,1.186)">→</text>
</g>
<g class="side">
<text x="596.5" y="54.2" textLength="88" lengthAdjust="spacingAndGlyphs">No rogue</text>
<text x="567.5" y="82.2" textLength="50" lengthAdjust="spacingAndGlyphs">wave</text>
<text x="567" y="110.2" textLength="108" lengthAdjust="spacingAndGlyphs">occurrence</text>
<text x="596" y="214.2" textLength="59" lengthAdjust="spacingAndGlyphs">Rogue</text>
<text x="567.5" y="242.3" textLength="50" lengthAdjust="spacingAndGlyphs">wave</text>
<text x="567" y="270.5" textLength="108" lengthAdjust="spacingAndGlyphs">occurrence</text>
</g>
</svg>
</body></html>
